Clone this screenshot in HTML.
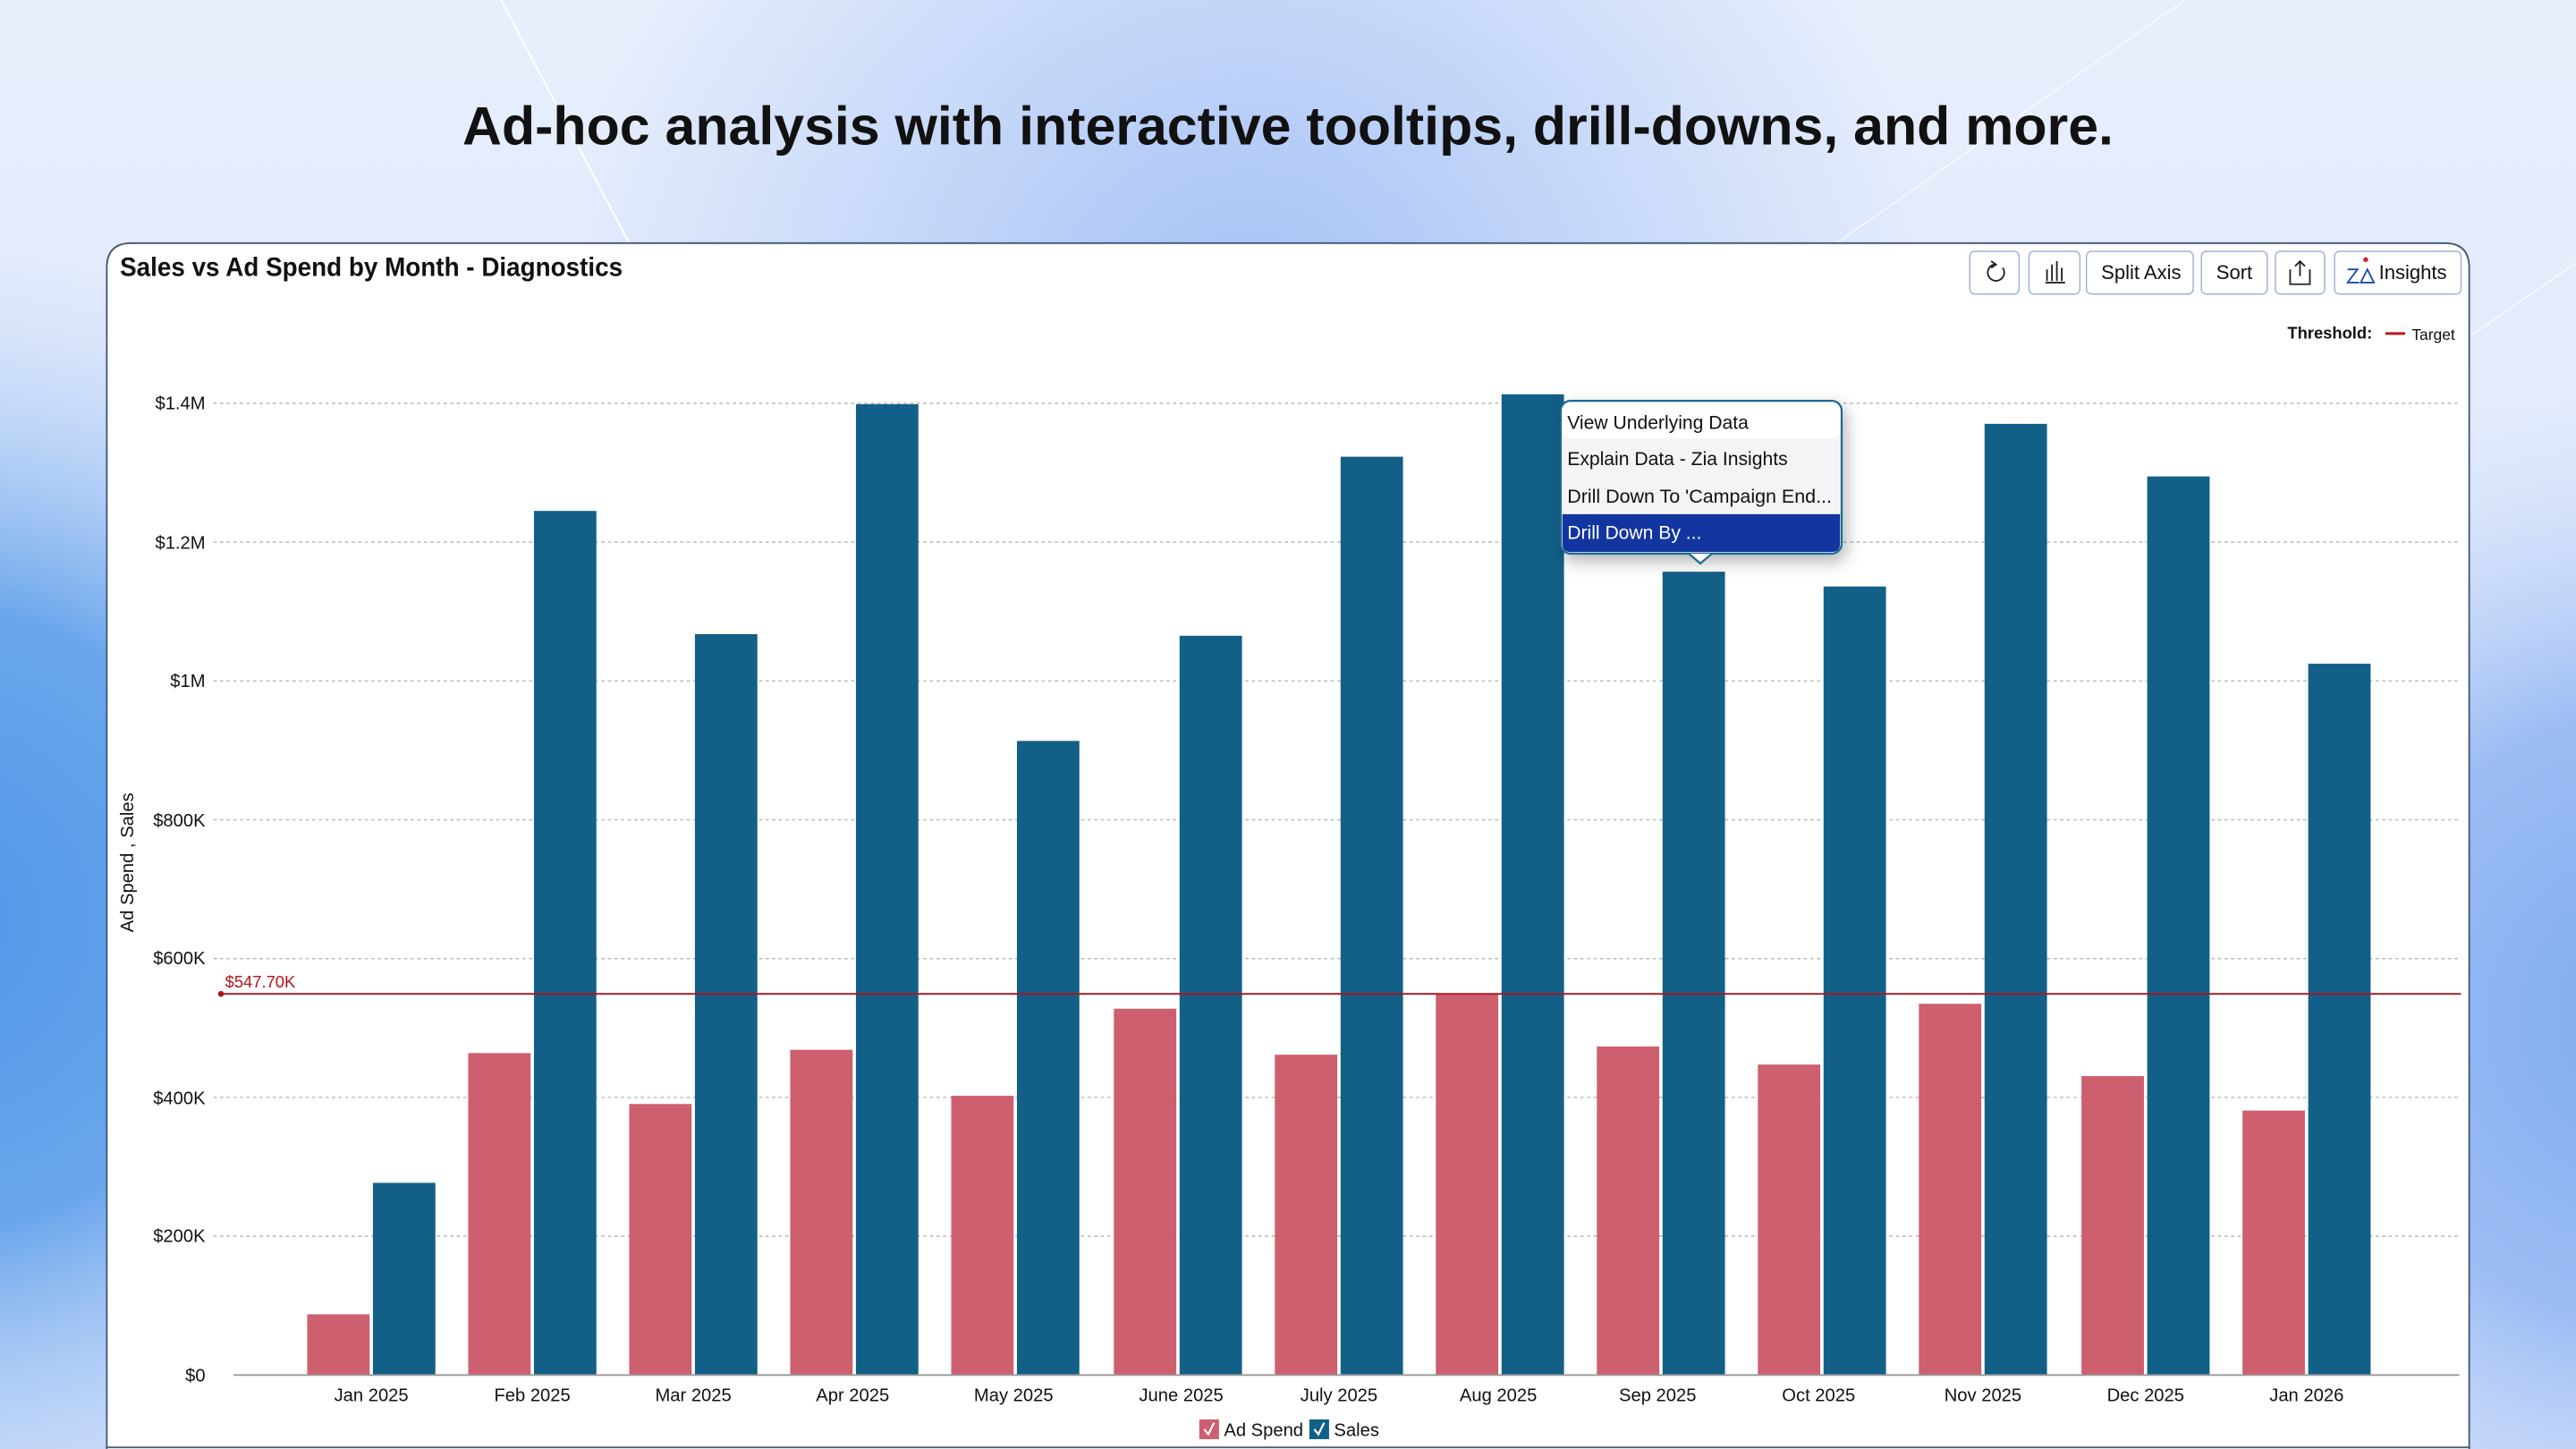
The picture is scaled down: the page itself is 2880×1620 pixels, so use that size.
<!DOCTYPE html>
<html><head><meta charset="utf-8"><style>
html,body{margin:0;padding:0;width:2880px;height:1620px;overflow:hidden}
svg{display:block}
text{font-family:"Liberation Sans",sans-serif}
</style></head><body>
<svg width="2880" height="1620" viewBox="0 0 1568 882" xmlns="http://www.w3.org/2000/svg">
<defs>
<linearGradient id="bg" x1="0" y1="0" x2="0" y2="1">
<stop offset="0" stop-color="#e8eefc"/><stop offset="1" stop-color="#d6e2fb"/>
</linearGradient>
<radialGradient id="lf" gradientUnits="userSpaceOnUse" cx="-40" cy="560" r="420">
<stop offset="0" stop-color="#4f97e8"/><stop offset="0.45" stop-color="#6aa6ec"/><stop offset="1" stop-color="#c9daf9" stop-opacity="0"/>
</radialGradient>
<radialGradient id="rt" gradientUnits="userSpaceOnUse" cx="1620" cy="620" r="380">
<stop offset="0" stop-color="#7eaaf0"/><stop offset="0.5" stop-color="#9dbdf4"/><stop offset="1" stop-color="#c9daf9" stop-opacity="0"/>
</radialGradient>
<radialGradient id="mid" gradientUnits="userSpaceOnUse" cx="760" cy="200" r="420">
<stop offset="0" stop-color="#a3c0f5"/><stop offset="1" stop-color="#a6c3f6" stop-opacity="0"/>
</radialGradient>
<filter id="sh" x="-20%" y="-20%" width="140%" height="150%"><feDropShadow dx="2" dy="4" stdDeviation="5" flood-color="#000" flood-opacity="0.3"/></filter>
</defs>
<rect width="1568" height="882" fill="url(#bg)"/>
<rect width="1568" height="882" fill="url(#mid)"/>
<rect width="1568" height="882" fill="url(#lf)"/>
<rect width="1568" height="882" fill="url(#rt)"/>
<line x1="305" y1="0" x2="383" y2="148" stroke="#fff" stroke-width="1"/>
<line x1="1118" y1="148" x2="1330" y2="0" stroke="#fff" stroke-width="0.8" opacity="0.8"/>
<line x1="1503" y1="205" x2="1568" y2="160" stroke="#fff" stroke-width="0.8" opacity="0.8"/>

<text x="784" y="88" text-anchor="middle" font-size="33" font-weight="bold" fill="#111" textLength="1005" lengthAdjust="spacingAndGlyphs">Ad-hoc analysis with interactive tooltips, drill-downs, and more.</text>

<path d="M65,900 L65,163 Q65,148 80,148 L1488,148 Q1503,148 1503,163 L1503,900 Z" fill="#fff" stroke="#3f5577" stroke-width="1"/>
<line x1="65" y1="881" x2="1503" y2="881" stroke="#4b5d7a" stroke-width="1"/>

<text x="73" y="168" font-size="16" font-weight="bold" fill="#111" textLength="306" lengthAdjust="spacingAndGlyphs">Sales vs Ad Spend by Month - Diagnostics</text>

<g fill="#fff" stroke="#9fb3d6" stroke-width="0.8">
<rect x="1199" y="153" width="30" height="26" rx="3"/>
<rect x="1235" y="153" width="31" height="26" rx="3"/>
<rect x="1270" y="153" width="65" height="26" rx="3"/>
<rect x="1340" y="153" width="40" height="26" rx="3"/>
<rect x="1385" y="153" width="30" height="26" rx="3"/>
<rect x="1421" y="153" width="77" height="26" rx="3"/>
</g>
<g font-size="12" fill="#111">
<text x="1279" y="170">Split Axis</text>
<text x="1349" y="170">Sort</text>
<text x="1448" y="170">Insights</text>
</g>
<path d="M1219,163 A5,5 0 1 1 1214,161" fill="none" stroke="#222" stroke-width="1"/>
<path d="M1212,159 L1215,161 L1212,163" fill="none" stroke="#222" stroke-width="1"/>
<g stroke="#222" stroke-width="1" fill="none">
<path d="M1245,172 L1257,172 M1246,171 L1246,164 M1249,171 L1249,161 M1252,171 L1252,159 M1255,171 L1255,163"/>
<path d="M1394,164 L1394,173 L1406,173 L1406,164 M1400,168 L1400,159 M1397,162 L1400,159 L1403,162"/>
<path d="M1429,164 L1435,164 L1429,172 L1436,172 M1437,172 L1441,164 L1445,172 Z" stroke="#1b4bb0"/>
</g>
<circle cx="1440" cy="158" r="1.5" fill="#d0213a"/>

<text x="1444" y="206" font-size="10" font-weight="bold" fill="#111" text-anchor="end">Threshold:</text>
<line x1="1452" y1="203" x2="1464" y2="203" stroke="#c0141d" stroke-width="1.6"/>
<text x="1468" y="207" font-size="9.5" fill="#111">Target</text>

<g stroke="#b8b8b8" stroke-width="0.8" stroke-dasharray="2,2">
<line x1="130" y1="245.5" x2="1497" y2="245.5"/>
<line x1="130" y1="330" x2="1497" y2="330"/>
<line x1="130" y1="414.5" x2="1497" y2="414.5"/>
<line x1="130" y1="499" x2="1497" y2="499"/>
<line x1="130" y1="583.5" x2="1497" y2="583.5"/>
<line x1="130" y1="668" x2="1497" y2="668"/>
<line x1="130" y1="752.5" x2="1497" y2="752.5"/>
</g>
<g font-size="11" fill="#111" text-anchor="end">
<text x="125" y="249">$1.4M</text>
<text x="125" y="334">$1.2M</text>
<text x="125" y="418">$1M</text>
<text x="125" y="503">$800K</text>
<text x="125" y="587">$600K</text>
<text x="125" y="672">$400K</text>
<text x="125" y="756">$200K</text>
<text x="125" y="841">$0</text>
</g>
<text transform="translate(81,525) rotate(-90)" font-size="11" fill="#111" text-anchor="middle">Ad Spend , Sales</text>

<g fill="#cd5f6f">
<rect x="187" y="800" width="38" height="37"/>
<rect x="285" y="641" width="38" height="196"/>
<rect x="383" y="672" width="38" height="165"/>
<rect x="481" y="639" width="38" height="198"/>
<rect x="579" y="667" width="38" height="170"/>
<rect x="678" y="614" width="38" height="223"/>
<rect x="776" y="642" width="38" height="195"/>
<rect x="874" y="605" width="38" height="232"/>
<rect x="972" y="637" width="38" height="200"/>
<rect x="1070" y="648" width="38" height="189"/>
<rect x="1168" y="611" width="38" height="226"/>
<rect x="1267" y="655" width="38" height="182"/>
<rect x="1365" y="676" width="38" height="161"/>
</g>
<g fill="#125f88">
<rect x="227" y="720" width="38" height="117"/>
<rect x="325" y="311" width="38" height="526"/>
<rect x="423" y="386" width="38" height="451"/>
<rect x="521" y="246" width="38" height="591"/>
<rect x="619" y="451" width="38" height="386"/>
<rect x="718" y="387" width="38" height="450"/>
<rect x="816" y="278" width="38" height="559"/>
<rect x="914" y="240" width="38" height="597"/>
<rect x="1012" y="348" width="38" height="489"/>
<rect x="1110" y="357" width="38" height="480"/>
<rect x="1208" y="258" width="38" height="579"/>
<rect x="1307" y="290" width="38" height="547"/>
<rect x="1405" y="404" width="38" height="433"/>
</g>
<line x1="142" y1="837" x2="1497" y2="837" stroke="#999" stroke-width="1"/>

<line x1="134" y1="605" x2="1498" y2="605" stroke="#b0141c" stroke-width="1"/>
<circle cx="134.5" cy="605" r="1.8" fill="#b0141c"/>
<text x="137" y="601" font-size="10" fill="#b0141c">$547.70K</text>

<g font-size="11" fill="#111" text-anchor="middle">
<text x="226" y="853">Jan 2025</text>
<text x="324" y="853">Feb 2025</text>
<text x="422" y="853">Mar 2025</text>
<text x="519" y="853">Apr 2025</text>
<text x="617" y="853">May 2025</text>
<text x="719" y="853">June 2025</text>
<text x="815" y="853">July 2025</text>
<text x="912" y="853">Aug 2025</text>
<text x="1009" y="853">Sep 2025</text>
<text x="1107" y="853">Oct 2025</text>
<text x="1207" y="853">Nov 2025</text>
<text x="1306" y="853">Dec 2025</text>
<text x="1404" y="853">Jan 2026</text>
</g>

<rect x="730" y="864" width="12" height="12" fill="#cd5f6f"/>
<path d="M733,870 L735.5,873 L739,866" stroke="#fff" stroke-width="1.2" fill="none"/>
<text x="745" y="874" font-size="11" fill="#111">Ad Spend</text>
<rect x="797" y="864" width="12" height="12" fill="#125f88"/>
<path d="M800,870 L802.5,873 L806,866" stroke="#fff" stroke-width="1.2" fill="none"/>
<text x="812" y="874" font-size="11" fill="#111">Sales</text>

<g filter="url(#sh)">
<rect x="950" y="244" width="171" height="93" rx="6" fill="#f4f4f6" stroke="#1a6a93" stroke-width="1.2"/>
</g>
<rect x="951" y="245" width="169" height="22" rx="5" fill="#fff"/>
<path d="M951,313 L1120,313 L1120,331 Q1120,336 1115,336 L956,336 Q951,336 951,331 Z" fill="#1235a0"/>
<path d="M1028,337 L1035,343 L1042,337" fill="#fff" stroke="#1a6a93" stroke-width="1.2"/>
<g font-size="11.5" fill="#111">
<text x="954" y="261">View Underlying Data</text>
<text x="954" y="283">Explain Data - Zia Insights</text>
<text x="954" y="306" textLength="161" lengthAdjust="spacingAndGlyphs">Drill Down To 'Campaign End...</text>
<text x="954" y="328" fill="#fff">Drill Down By ...</text>
</g>
</svg>
</body></html>
